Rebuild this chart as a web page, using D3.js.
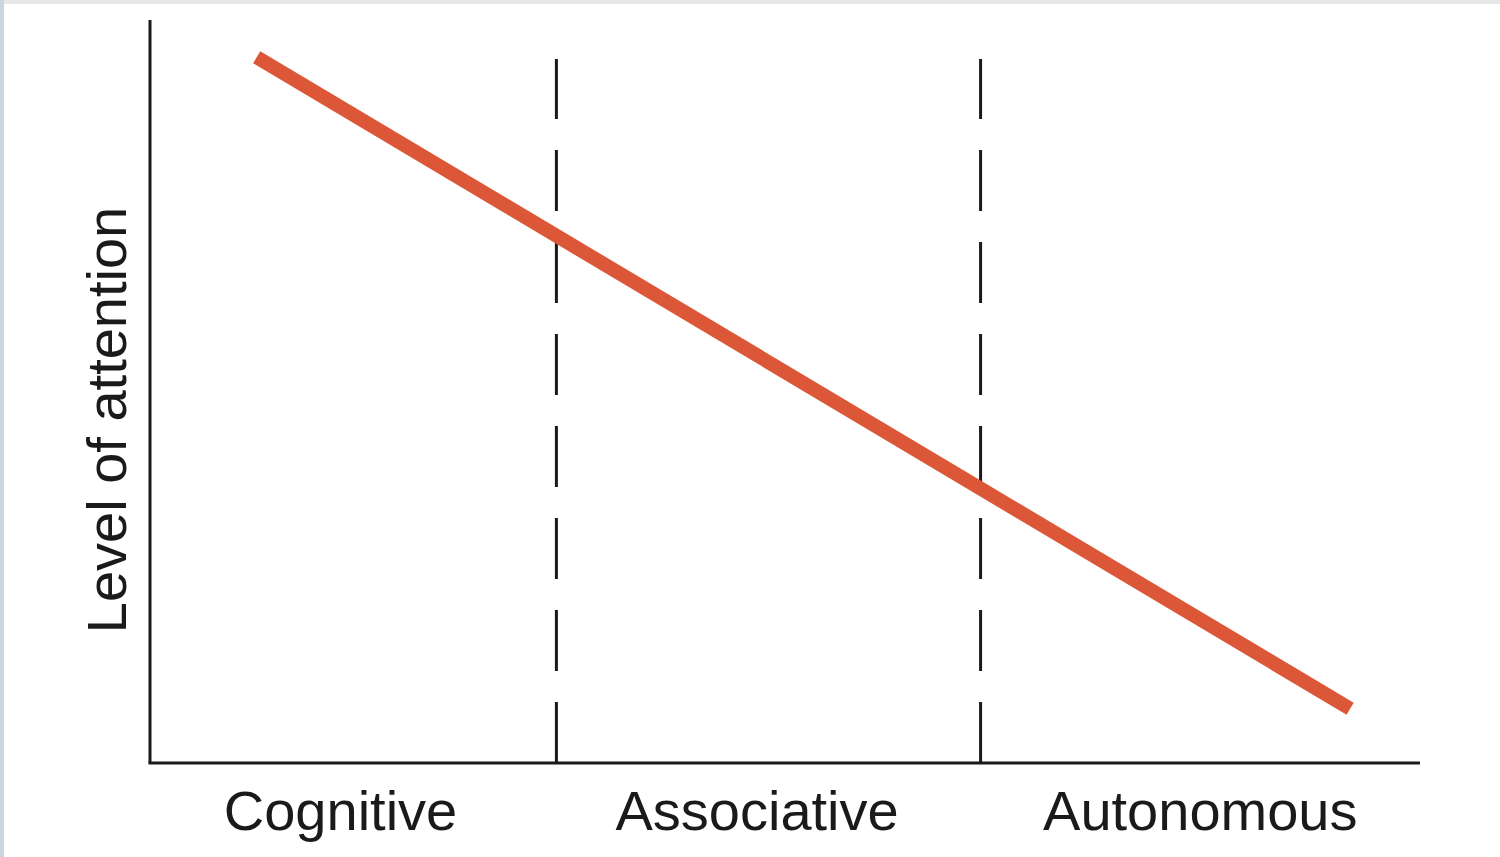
<!DOCTYPE html>
<html><head><meta charset="utf-8">
<script src="https://cdn.jsdelivr.net/npm/d3@7"></script>
<style>body{margin:0;background:#fff}svg{display:block}</style>
</head><body>
<script>
const stages = ["Cognitive", "Associative", "Autonomous"];
const stageCenters = [15, 47.8, 82.7];
const boundaries = [32.0, 65.4];
const lineX = [8.4, 94.5];
const lineY = [95.0, 7.3];
const yLabel = "Level of attention";

const W = 1500, H = 857;
const svg = d3.select("body").append("svg").attr("width", W).attr("height", H);
svg.append("rect").attr("width", W).attr("height", 4).attr("fill", "#e6e7e8");
svg.append("rect").attr("width", 4).attr("height", H).attr("fill", "#c9d5e1");

const x = d3.scaleLinear().domain([0, 100]).range([150, 1420]);
const y = d3.scaleLinear().domain([0, 100]).range([763, 20]);

svg.append("line").attr("x1", x(0)).attr("x2", x(0)).attr("y1", y(100)).attr("y2", y(0))
  .attr("stroke", "#1a1a1a").attr("stroke-width", 3);
svg.append("line").attr("x1", x(0) - 1.5).attr("x2", x(100)).attr("y1", y(0)).attr("y2", y(0))
  .attr("stroke", "#1a1a1a").attr("stroke-width", 3);

svg.selectAll(".div").data(boundaries).join("line")
  .attr("x1", d => x(d)).attr("x2", d => x(d))
  .attr("y1", y(0)).attr("y2", 59)
  .attr("stroke", "#1a1a1a").attr("stroke-width", 3)
  .attr("stroke-dasharray", "61 31");

svg.append("line")
  .attr("x1", x(lineX[0])).attr("y1", y(lineY[0]))
  .attr("x2", x(lineX[1])).attr("y2", y(lineY[1]))
  .attr("stroke", "#dc5737").attr("stroke-width", 14);

svg.selectAll(".cat").data(stages).join("text")
  .attr("x", (d, i) => x(stageCenters[i])).attr("y", 830)
  .attr("text-anchor", "middle")
  .attr("font-family", "Liberation Sans, Arial, sans-serif")
  .attr("font-size", 56).attr("fill", "#1a1a1a").text(d => d);

svg.append("text")
  .attr("transform", "translate(126,420) rotate(-90)")
  .attr("text-anchor", "middle")
  .attr("font-family", "Liberation Sans, Arial, sans-serif")
  .attr("font-size", 56).attr("fill", "#1a1a1a").text(yLabel);
</script>
</body></html>
